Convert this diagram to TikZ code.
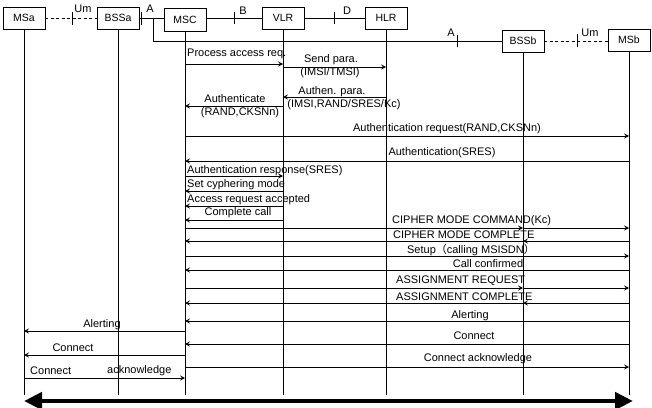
\documentclass[tikz,border=0pt]{standalone}
\usepackage{fontspec}
\setmainfont{Liberation Sans}
\newfontfamily\cjk{Noto Sans CJK SC}
\usetikzlibrary{arrows.meta}
\begin{document}
\begin{tikzpicture}[x=1pt,y=-1pt,
  ent/.style={draw,line width=0.9pt,minimum width=42pt,minimum height=22pt,inner sep=0pt,font=\fontsize{10.5}{12}\selectfont},
  life/.style={line width=0.9pt},
  iface/.style={line width=0.9pt},
  dash line/.style={line width=0.9pt,dash pattern=on 3pt off 2.5pt},
  msg/.style={line width=0.9pt,-{Stealth[length=5pt,width=5pt,inset=2pt]}},
  lbl/.style={inner sep=0pt,font=\fontsize{11}{12}\selectfont},
  big/.style={line width=4.5pt,{Triangle[length=18pt,width=17pt]}-{Triangle[length=18pt,width=17pt]}}]
\useasboundingbox (0,0) rectangle (652,407);
% entities
\node[ent] (MSa) at (24,18) {MSa};
\node[ent] (BSSa) at (118,18) {BSSa};
\node[ent,minimum height=23pt] (MSC) at (185,20) {MSC};
\node[ent] (VLR) at (283,18) {VLR};
\node[ent] (HLR) at (386,18) {HLR};
\node[ent] (BSSb) at (523,41) {BSSb};
\node[ent] (MSb) at (629,40) {MSb};
% interfaces
\draw[dash line] (MSa.east) -- (BSSa.west);
\draw[iface] (72,12) -- (72,25);
\node[lbl] (um1) at (83,9) {Um};
\draw[iface] (BSSa.east) -- (MSC.west |- BSSa.east);
\draw[iface] (141,12) -- (141,25);
\node[lbl] (a1) at (150,9) {A};
\coordinate (Abend) at (153,41);
\draw[iface] (153,18) -- (Abend) -- (BSSb.west);
\draw[iface] (457,35) -- (457,47);
\node[lbl] (a2) at (451,33) {A};
\draw[iface] (MSC.east |- VLR.west) -- (VLR.west);
\draw[iface] (234,12) -- (234,24);
\node[lbl] (b1) at (243,11) {B};
\draw[iface] (VLR.east) -- (HLR.west);
\draw[iface] (334,12) -- (334,24);
\node[lbl] (d1) at (347,11) {D};
\draw[dash line] (BSSb.east) -- (MSb.west |- BSSb.east);
\draw[iface] (577,34) -- (577,47);
\node[lbl] (um2) at (590,33) {Um};
% lifelines
\foreach \n in {MSa,BSSa,MSC,VLR,HLR,BSSb,MSb}{
  \coordinate (\n End) at (\n |- 0,395);
  \draw[life] (\n.south) -- (\n End);
}
% messages
\draw[msg] (MSC|-0,64) -- (VLR|-0,64);
\node[lbl,anchor=west] (m1) at (187,54) {Process access req.};
\draw[msg] (VLR|-0,67) -- (HLR|-0,67);
\node[lbl] (m2a) at (331,60) {Send para.};
\node[lbl] (m2b) at (330,73) {(IMSI/TMSI)};
\draw[msg] (HLR|-0,97) -- (VLR|-0,97);
\node[lbl] (m3a) at (332,92) {Authen. para.};
\node[lbl] (m3b) at (344,105) {(IMSI,RAND/SRES/Kc)};
\draw[msg] (VLR|-0,106) -- (MSC|-0,106);
\node[lbl] (m4a) at (235,99) {Authenticate};
\node[lbl] (m4b) at (240,113) {(RAND,CKSNn)};
\draw[msg] (MSC|-0,136) -- (MSb|-0,136);
\node[lbl] (m5) at (447,129) {Authentication request(RAND,CKSNn)};
\draw[msg] (MSb|-0,161) -- (MSC|-0,161);
\node[lbl] (m6) at (442,153) {Authentication(SRES)};
\draw[msg] (MSC|-0,176) -- (VLR|-0,176);
\node[lbl,anchor=west] (m7) at (187,171) {Authentication response(SRES)};
\draw[msg] (VLR|-0,191) -- (MSC|-0,191);
\node[lbl,anchor=west] (m8) at (187,185) {Set cyphering mode};
\draw[msg] (VLR|-0,206) -- (MSC|-0,206);
\node[lbl,anchor=west] (m9) at (187,200) {Access request accepted};
\draw[msg] (VLR|-0,220) -- (MSC|-0,220);
\node[lbl] (m10) at (238,213) {Complete call};
\draw[msg] (MSC|-0,228) -- (BSSb|-0,228);
\draw[msg] (BSSb|-0,228) -- (MSb|-0,228);
\node[lbl,anchor=west] (m11) at (392,221) {CIPHER MODE COMMAND(Kc)};
\draw[msg] (MSb|-0,241) -- (BSSb|-0,241);
\draw[msg] (BSSb|-0,241) -- (MSC|-0,241);
\node[lbl,anchor=west] (m12) at (393,235) {CIPHER MODE COMPLETE};
\draw[msg] (MSC|-0,256) -- (MSb|-0,256);
\node[lbl] (m13) at (471,250) {Setup{\cjk （}calling MSISDN{\cjk ）}};
\draw[msg] (MSb|-0,270) -- (MSC|-0,270);
\node[lbl] (m14) at (488,264) {Call confirmed};
\draw[msg] (MSC|-0,288) -- (BSSb|-0,288);
\draw[msg] (BSSb|-0,288) -- (MSb|-0,288);
\node[lbl,anchor=west] (m15) at (396,281) {ASSIGNMENT REQUEST};
\draw[msg] (MSb|-0,303) -- (BSSb|-0,303);
\draw[msg] (BSSb|-0,303) -- (MSC|-0,303);
\node[lbl,anchor=west] (m16) at (396,297) {ASSIGNMENT COMPLETE};
\draw[msg] (MSb|-0,321) -- (MSC|-0,321);
\node[lbl] (m17) at (470,316) {Alerting};
\draw[msg] (MSC|-0,331) -- (MSa|-0,331);
\node[lbl] (m18) at (102,325) {Alerting};
\draw[msg] (MSb|-0,344) -- (MSC|-0,344);
\node[lbl] (m19) at (474,336) {Connect};
\draw[msg] (MSC|-0,355) -- (MSa|-0,355);
\node[lbl] (m20) at (73,348) {Connect};
\draw[msg] (MSC|-0,367) -- (MSb|-0,367);
\node[lbl] (m21) at (478,359) {Connect acknowledge};
\draw[msg] (MSa|-0,378) -- (MSC|-0,378);
\node[lbl,anchor=west] (m22a) at (30,371) {Connect};
\node[lbl,anchor=west] (m22b) at (107,371) {acknowledge};
% timeline arrow
\coordinate (tl) at (MSa |- 0,401);
\coordinate (tr) at (633,401);
\draw[big] (tl) -- (tr);
\end{tikzpicture}
\end{document}
